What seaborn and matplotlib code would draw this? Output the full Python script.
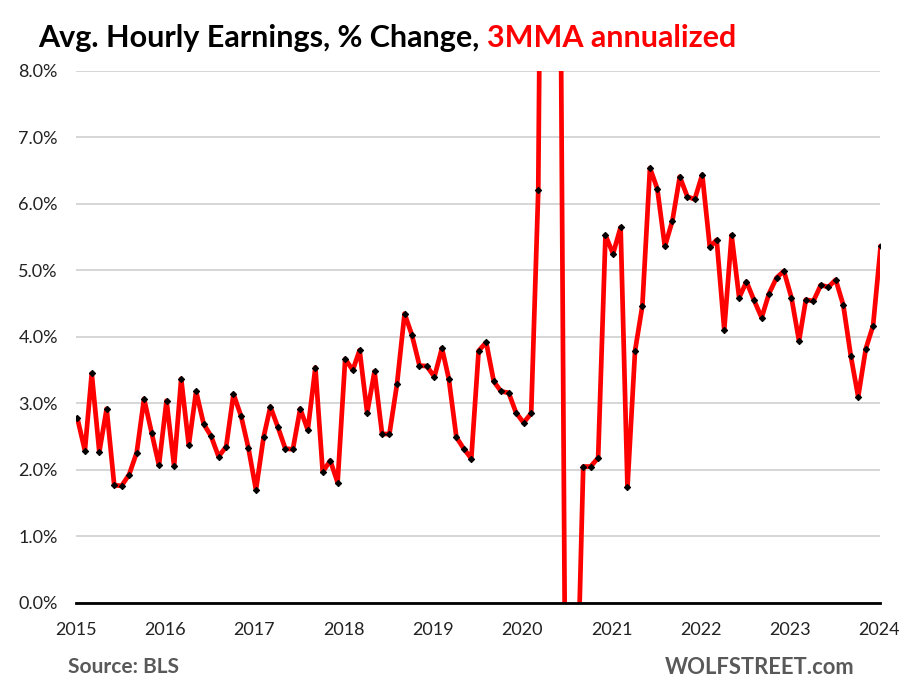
import pandas as pd
import matplotlib.pyplot as plt
import seaborn as sns

# ---------------- data ----------------
pct_2015 = [2.78, 2.29, 3.45, 2.27, 2.92, 1.77, 1.76, 1.93, 2.26, 3.07, 2.56, 2.07]
pct_2016 = [3.04, 2.06, 3.37, 2.37, 3.18, 2.69, 2.51, 2.20, 2.35, 3.14, 2.81, 2.33]
pct_2017 = [1.70, 2.49, 2.95, 2.64, 2.32, 2.31, 2.92, 2.60, 3.54, 1.97, 2.14, 1.81]
pct_2018 = [3.67, 3.50, 3.80, 2.86, 3.48, 2.54, 2.54, 3.29, 4.35, 4.03, 3.57, 3.56]
pct_2019 = [3.40, 3.83, 3.37, 2.49, 2.32, 2.17, 3.79, 3.92, 3.33, 3.18, 3.16, 2.86]
pct_2020 = [2.71, 2.85, 6.21, 20.0, 16.0, 9.0, -8.0, -2.3, 2.05, 2.05, 2.18, 5.53]
pct_2021 = [5.25, 5.65, 1.74, 3.79, 4.47, 6.54, 6.23, 5.36, 5.75, 6.41, 6.11, 6.07]
pct_2022 = [6.44, 5.35, 5.46, 4.11, 5.53, 4.59, 4.83, 4.55, 4.29, 4.65, 4.89, 4.99]
pct_2023 = [4.59, 3.94, 4.56, 4.54, 4.78, 4.75, 4.86, 4.48, 3.71, 3.10, 3.82, 4.17]
pct_2024 = [5.37]

values = (pct_2015 + pct_2016 + pct_2017 + pct_2018 + pct_2019 + pct_2020
          + pct_2021 + pct_2022 + pct_2023 + pct_2024)
dates = pd.date_range("2015-01-01", periods=len(values), freq="MS") + pd.Timedelta(days=6)
df = pd.DataFrame({"Date": dates, "Pct": values})

y_ticks = [0, 1, 2, 3, 4, 5, 6, 7, 8]
x_tick_labels = [str(y) for y in range(2015, 2025)]

# ---------------- plot ----------------
sns.set_style("white")
plt.rcParams["font.family"] = ["Lato", "DejaVu Sans"]

fig = plt.figure(figsize=(9.03, 6.89), dpi=100)
ax = fig.add_axes([0.084, 0.125, 0.891, 0.772])

sns.lineplot(data=df, x="Date", y="Pct", ax=ax, color="#ff0000", linewidth=3.4,
             marker="D", markersize=3.2, markerfacecolor="black",
             markeredgecolor="black", zorder=3)

ax.set_ylim(0, 8)
ax.set_yticks(y_ticks)
ax.set_yticklabels([f"{v:.1f}%" for v in y_ticks], fontsize=13, color="#222222")
ax.yaxis.grid(True, color="#d0d0d0", linewidth=1.2)
ax.xaxis.grid(False)

tick_dates = pd.to_datetime([f"{y}-01-01" for y in range(2015, 2025)])
ax.set_xlim(pd.Timestamp("2015-01-01"), pd.Timestamp("2024-01-06"))
ax.set_xticks(tick_dates)
ax.set_xticklabels(x_tick_labels, fontsize=13, color="#222222")
ax.tick_params(axis="x", direction="out", length=6, width=1.5, color="black", pad=8)
ax.tick_params(axis="y", length=0, pad=13)

ax.set_xlabel("")
ax.set_ylabel("")
for s in ["top", "right", "left"]:
    ax.spines[s].set_visible(False)
ax.spines["bottom"].set_color("black")
ax.spines["bottom"].set_linewidth(2)
ax.spines["bottom"].set_zorder(4)

# two-colour title
t1 = fig.text(38 / 903, 1 - 38 / 689, "Avg. Hourly Earnings, % Change, ",
              fontsize=22, fontweight="bold", color="black", va="center", ha="left")
fig.canvas.draw()
bb = t1.get_window_extent(renderer=fig.canvas.get_renderer())
fig.text(bb.x1 / fig.bbox.width, 1 - 38 / 689, "3MMA annualized",
         fontsize=22, fontweight="bold", color="#ff0000", va="center", ha="left")

fig.text(68 / 903, 1 - 667 / 689, "Source: BLS", fontsize=15,
         fontweight="bold", color="#595959", va="center", ha="left")
fig.text(854 / 903, 1 - 667 / 689, "WOLFSTREET.com", fontsize=15.8,
         fontweight="bold", color="#595959", va="center", ha="right")

plt.savefig("out.png", dpi=100)
